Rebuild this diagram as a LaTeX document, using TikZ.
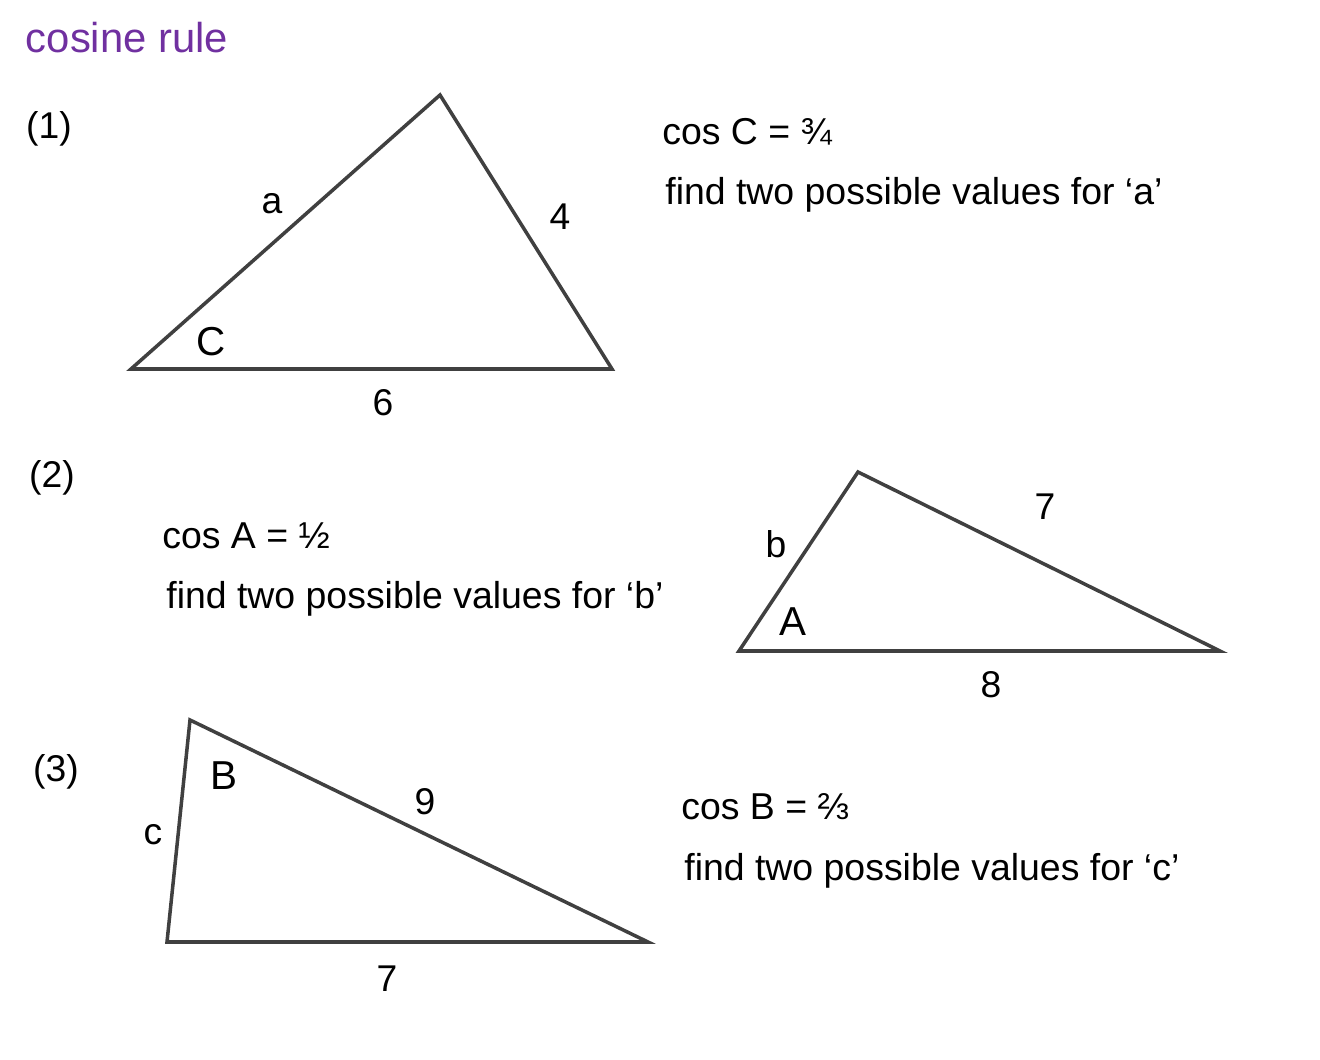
\documentclass[tikz,border=0pt]{standalone}
\usepackage{fontspec}
\setmainfont{Liberation Sans}
\definecolor{titlepurple}{HTML}{7030A0}
\definecolor{edgegray}{HTML}{404040}

\begin{document}
\begin{tikzpicture}[x=0.02cm,y=-0.02cm,
  side/.style={font=\fontsize{21.2}{25}\selectfont,inner sep=0pt},
  corner/.style={font=\fontsize{23}{27}\selectfont,inner sep=0pt},
  task/.style={font=\fontsize{21.3}{25}\selectfont,inner sep=0pt,anchor=west},
  edge/.style={line width=2pt,draw=edgegray}]
\useasboundingbox (0,0) rectangle (1320,1060);
\node[font=\fontsize{23.8}{28}\selectfont,inner sep=0pt,text=titlepurple] (title) at (127,38) {cosine rule};
% (1)
\node[side] (num1) at (49,129) {(1)};
\coordinate (C1) at (131,369);
\coordinate (T1) at (440,95);
\coordinate (R1) at (612,369);
\draw[edge] (C1) -- (T1) -- (R1) -- cycle;
\node[side] (a1) at (272,204) {a};
\node[side] (four1) at (560,217) {4};
\node[corner] (angC) at (211,342) {C};
\node[side] (six1) at (383,403) {6};
\node[task] (cosC) at (662,132) {cos C = ¾};
\node[task] (find1) at (665,195) {find two possible values for ‘a’};
% (2)
\node[side] (num2) at (52,478) {(2)};
\node[task] (cosA) at (162,536) {cos A = ½};
\node[task] (find2) at (166,599) {find two possible values for ‘b’};
\coordinate (A2) at (739,651);
\coordinate (T2) at (858,472);
\coordinate (R2) at (1220,651);
\draw[edge] (A2) -- (T2) -- (R2) -- cycle;
\node[side] (b2) at (776,544) {b};
\node[side] (seven2) at (1045,507) {7};
\node[corner] (angA) at (793,622) {A};
\node[side] (eight2) at (991,685) {8};
% (3)
\node[side] (num3) at (56,772) {(3)};
\coordinate (B3) at (190,720);
\coordinate (L3) at (167,942);
\coordinate (R3) at (648,942);
\draw[edge] (B3) -- (L3) -- (R3) -- cycle;
\node[corner] (angB) at (224,776) {B};
\node[side] (c3) at (153,835) {c};
\node[side] (nine3) at (425,802) {9};
\node[side] (seven3) at (387,979) {7};
\node[task] (cosB) at (681,807) {cos B = ⅔};
\node[task] (find3) at (684,871) {find two possible values for ‘c’};
\end{tikzpicture}
\end{document}
